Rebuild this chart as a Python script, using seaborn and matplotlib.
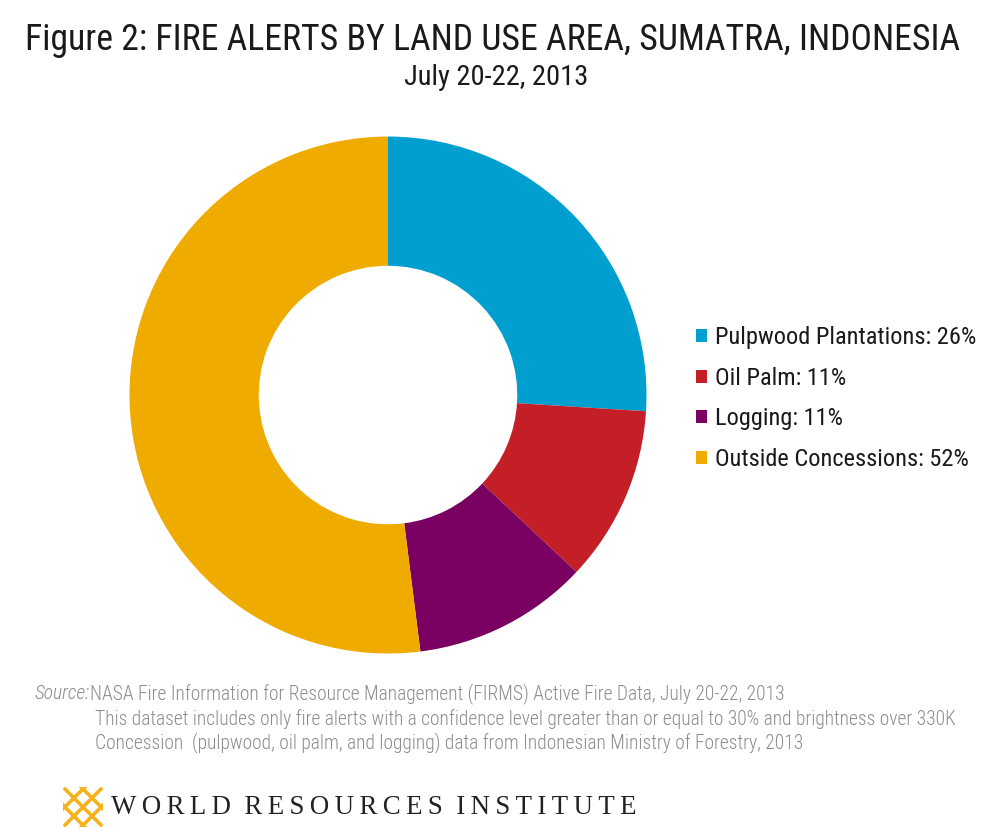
import numpy as np
import pandas as pd
import seaborn as sns
import matplotlib
matplotlib.use('Agg')
import matplotlib.pyplot as plt
from matplotlib.patches import Patch

sns.set_theme(style='white')
sans = ['Roboto Condensed', 'Archivo Narrow', 'PT Sans Narrow', 'DejaVu Sans']
plt.rcParams['font.family'] = sans

# data
categories = ['Pulpwood Plantations', 'Oil Palm', 'Logging', 'Outside Concessions']
shares = [26, 11, 11, 52]
colors = ['#009FCF', '#C41F26', '#7A0061', '#F0AB00']

title = 'Figure 2: FIRE ALERTS BY LAND USE AREA, SUMATRA, INDONESIA'
subtitle = 'July 20-22, 2013'
source_lines = [
    'NASA Fire Information for Resource Management (FIRMS) Active Fire Data, July 20-22, 2013',
    'This dataset includes only fire alerts with a confidence level greater than or equal to 30% and brightness over 330K',
    'Concession  (pulpwood, oil palm, and logging) data from Indonesian Ministry of Forestry, 2013',
]

df = pd.DataFrame({'category': categories, 'share': shares})
df['label'] = df['category'] + ': ' + df['share'].astype(str) + '%'

fig = plt.figure(figsize=(10, 8.32), dpi=100)
fig.patch.set_facecolor('white')
renderer = fig.canvas.get_renderer()


def fit_text(x, y, s, width_px, **kw):
    # shrink/grow the font so the text spans the same width as in the original
    t = fig.text(x, y, s, fontsize=20, **kw)
    w = t.get_window_extent(renderer).width
    t.set_fontsize(20 * width_px / w)
    return t


# donut
ax = fig.add_axes([0.1295, 0.2145, 0.517, 0.6214])
wedges, _ = ax.pie(df['share'], colors=colors, startangle=90, counterclock=False,
                   radius=1, wedgeprops=dict(width=0.5, linewidth=0))
ax.set_xlim(-1, 1)
ax.set_ylim(-1, 1)
ax.set_aspect('equal')
ax.axis('off')

# legend font size chosen from the width of the longest label
probe = fit_text(0, 0, df['label'].iloc[0], 260)
leg_fs = probe.get_fontsize()
probe.remove()
handles = [Patch(facecolor=c, edgecolor='none') for c in colors]
fig.legend(handles, df['label'], loc='center left', bbox_to_anchor=(0.696, 0.521),
           frameon=False, fontsize=leg_fs, handlelength=0.45, handleheight=0.45,
           handletextpad=0.35, labelspacing=0.72, borderpad=0, borderaxespad=0,
           labelcolor='#1a1a1a')

# titles
fit_text(0.4925, 0.952, title, 935, ha='center', va='center', color='#1a1a1a')
fit_text(0.496, 0.907, subtitle, 184, ha='center', va='center', color='#1a1a1a')

# source notes
grey = '#8c8c8c'
src = fit_text(0.090, 0.166, source_lines[0], 697, ha='left', va='center', color=grey, weight='light')
fs = src.get_fontsize()
fig.text(0.035, 0.166, 'Source:', style='italic', ha='left', va='center', fontsize=fs, color=grey, weight='light')
fig.text(0.095, 0.136, source_lines[1], ha='left', va='center', fontsize=fs, color=grey, weight='light')
fig.text(0.095, 0.107, source_lines[2], ha='left', va='center', fontsize=fs, color=grey, weight='light')

# logo
gold = '#F5B21C'
lax = fig.add_axes([0.063, 0.006, 0.04, 0.048])
for k in (-0.5, 0, 0.5):
    t = np.linspace(-1, 1, 2)
    lax.plot(t + k, t - k, color=gold, lw=2.6, solid_capstyle='round')
    lax.plot(t + k, -t + k, color=gold, lw=2.6, solid_capstyle='round')
lax.set_xlim(-1.1, 1.1)
lax.set_ylim(-1.1, 1.1)
lax.set_aspect('equal')
lax.axis('off')
wri = 'W O R L D   R E S O U R C E S   I N S T I T U T E'.replace(' ', '\u2009').replace('\u2009\u2009\u2009', '  ')
fit_text(0.111, 0.029, wri, 524, family=['Liberation Serif', 'DejaVu Serif'],
         ha='left', va='center', color='#222222')

fig.savefig('out.png', dpi=100, facecolor='white')
